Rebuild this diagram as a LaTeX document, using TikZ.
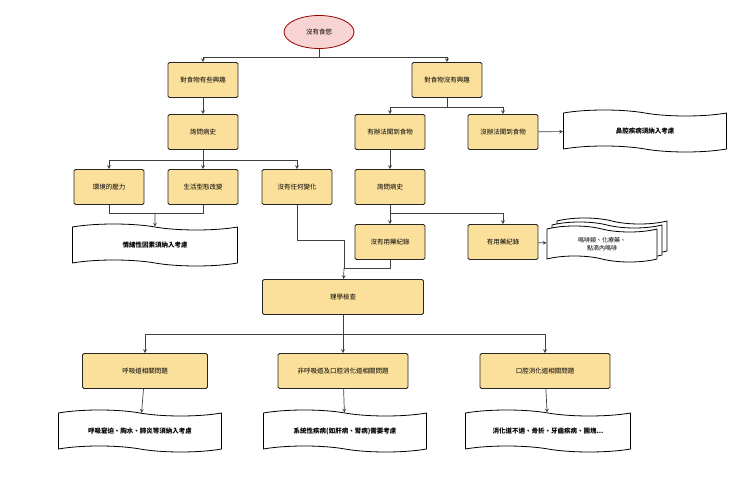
\documentclass[tikz,border=0pt]{standalone}
\usepackage{fontspec}
\setmainfont{Noto Sans CJK TC}
\usetikzlibrary{shapes,arrows}
\definecolor{boxfill}{HTML}{FBE09B}
\definecolor{startfill}{HTML}{F8D3D3}
\tikzstyle{box} = [draw=black!85,fill=boxfill,rounded corners=1.5,line width=0.9pt,minimum height=35,font=\fontsize{6.5}{8}\selectfont]
\tikzstyle{start} = [draw=red!60!black,fill=startfill,ellipse,line width=0.8pt,minimum width=70,minimum height=33,font=\fontsize{6.5}{8}\selectfont]
\tikzstyle{doc} = [draw,fill=white,tape,tape bend top=out and in,tape bend bottom=out and in,tape bend height=6,line width=0.8pt,minimum height=42,font=\bfseries\fontsize{6.5}{8}\selectfont]
\tikzstyle{line} = [draw=black!75,line width=0.7pt]

\begin{document}
\begin{tikzpicture}[x=1pt,y=-1pt,>=stealth]
\useasboundingbox (0,0) rectangle (740,484);

\node[start] (noapp) at (319,32) {沒有食慾};
\node[box,minimum width=70] (some) at (203,80) {對食物有些興趣};
\node[box,minimum width=70] (none) at (447,80) {對食物沒有興趣};
\node[box,minimum width=70] (hist1) at (203,132) {詢問病史};
\node[box,minimum width=70] (smell) at (390,132) {有辦法聞到食物};
\node[box,minimum width=70] (nosmell) at (503,132) {沒辦法聞到食物};
\node[doc,minimum width=163] (nose) at (645,131) {鼻腔疾病須納入考慮};
\node[box,minimum width=70] (env) at (109,187) {環境的壓力};
\node[box,minimum width=70] (life) at (203,187) {生活型態改變};
\node[box,minimum width=70] (nochg) at (297,187) {沒有任何變化};
\node[box,minimum width=70] (hist2) at (390,187) {詢問病史};
\node[doc,minimum width=165] (emo) at (155,245) {情緒性因素須納入考慮};
\node[box,minimum width=70] (nodrug) at (390,242) {沒有用藥紀錄};
\node[box,minimum width=70] (drug) at (503,242) {有用藥紀錄};
% stacked documents
\node[doc,minimum width=110,minimum height=36] (drugdoc3) at (612,236) {};
\node[doc,minimum width=110,minimum height=36] (drugdoc2) at (607,240) {};
\node[doc,minimum width=110,minimum height=36,align=center,font=\fontsize{6}{8}\selectfont] (drugdoc) at (602,244) {嗎啡類、化療藥、\\點滴內嗎啡};
\node[box,minimum width=161] (exam) at (343,297) {理學檢查};
\node[box,minimum width=125] (resp) at (145,371) {呼吸道相關問題};
\node[box,minimum width=130] (other) at (343,371) {非呼吸道及口腔消化道相關問題};
\node[box,minimum width=130] (oral) at (545,371) {口腔消化道相關問題};
\node[doc,minimum width=163] (respdoc) at (140,431) {呼吸窘迫、胸水、肺炎等須納入考慮};
\node[doc,minimum width=163] (otherdoc) at (345,431) {系統性疾病(如肝病、腎病)需要考慮};
\node[doc,minimum width=165] (oraldoc) at (548,431) {消化道不適、骨折、牙齒疾病、團塊...};

\coordinate (j1) at (319,57);
\coordinate (j2) at (447,107);
\coordinate (j3) at (203,160);
\coordinate (j4) at (155,213);
\coordinate (j5) at (390,213);
\coordinate (j6) at (344,268);
\coordinate (j7) at (343,334);
\coordinate (k1) at (297,240);

\path[line]
(noapp) -- (j1)
(hist1) -- (j3)
(none) -- (j2)
(hist2) -- (j5)
(exam) -- (j7)
(env) |- (j4)
(life) |- (j4)
(nodrug) |- (j6)
(nochg) -- (k1) -| (j6);
\draw[line,->] (j1) -| (some);
\draw[line,->] (j1) -| (none);
\draw[line,->] (j2) -| (smell);
\draw[line,->] (j2) -| (nosmell);
\draw[line,->] (some) -- (hist1);
\draw[line,->] (smell) -- (hist2);
\draw[line,->] (j3) -| (env);
\draw[line,->] (j3) -- (life);
\draw[line,->] (j3) -| (nochg);
\draw[line,->] (j4) -- (emo);
\draw[line,->] (nosmell) -- (nose);
\draw[line,->] (j5) -- (nodrug);
\draw[line,->] (j5) -| (drug);
\draw[line,->] (drug) -- (drugdoc);
\draw[line,->] (j6) -- (exam);
\draw[line,->] (j7) -| (resp);
\draw[line,->] (j7) -- (other);
\draw[line,->] (j7) -| (oral);
\draw[line,->] (resp) -- (respdoc);
\draw[line,->] (other) -- (otherdoc);
\draw[line,->] (oral) -- (oraldoc);

\end{tikzpicture}
\end{document}
